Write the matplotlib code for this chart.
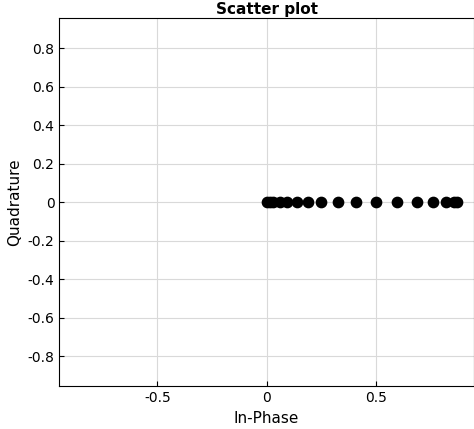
import matplotlib
matplotlib.use('Agg')
import matplotlib.pyplot as plt

in_phase = [0.0, 0.015, 0.03, 0.063, 0.093, 0.139, 0.19, 0.25, 0.327, 0.411,
            0.503, 0.598, 0.687, 0.763, 0.823, 0.86, 0.873]
quadrature = [0.0] * len(in_phase)
ticks_x = [-0.5, 0, 0.5]
ticks_y = [-0.8, -0.6, -0.4, -0.2, 0, 0.2, 0.4, 0.6, 0.8]

fig = plt.figure(figsize=(4.74, 4.29), dpi=100)
ax = fig.add_axes([0.125, 0.1, 0.875, 0.858])
ax.scatter(in_phase, quadrature, s=55, color='black', zorder=3)
ax.set_xlim(-0.95, 0.95)
ax.set_ylim(-0.956, 0.956)
ax.set_xticks(ticks_x)
ax.set_xticklabels(['-0.5', '0', '0.5'])
ax.set_yticks(ticks_y)
ax.set_yticklabels(['-0.8', '-0.6', '-0.4', '-0.2', '0', '0.2', '0.4', '0.6', '0.8'])
ax.grid(True, color='#d9d9d9', linewidth=0.8)
ax.set_axisbelow(True)
ax.tick_params(labelsize=10, direction='in')
ax.set_xlabel('In-Phase', fontsize=11)
ax.set_ylabel('Quadrature', fontsize=11)
ax.set_title('Scatter plot', fontsize=11, fontweight='bold', pad=3)
fig.savefig('out.png', dpi=100)
